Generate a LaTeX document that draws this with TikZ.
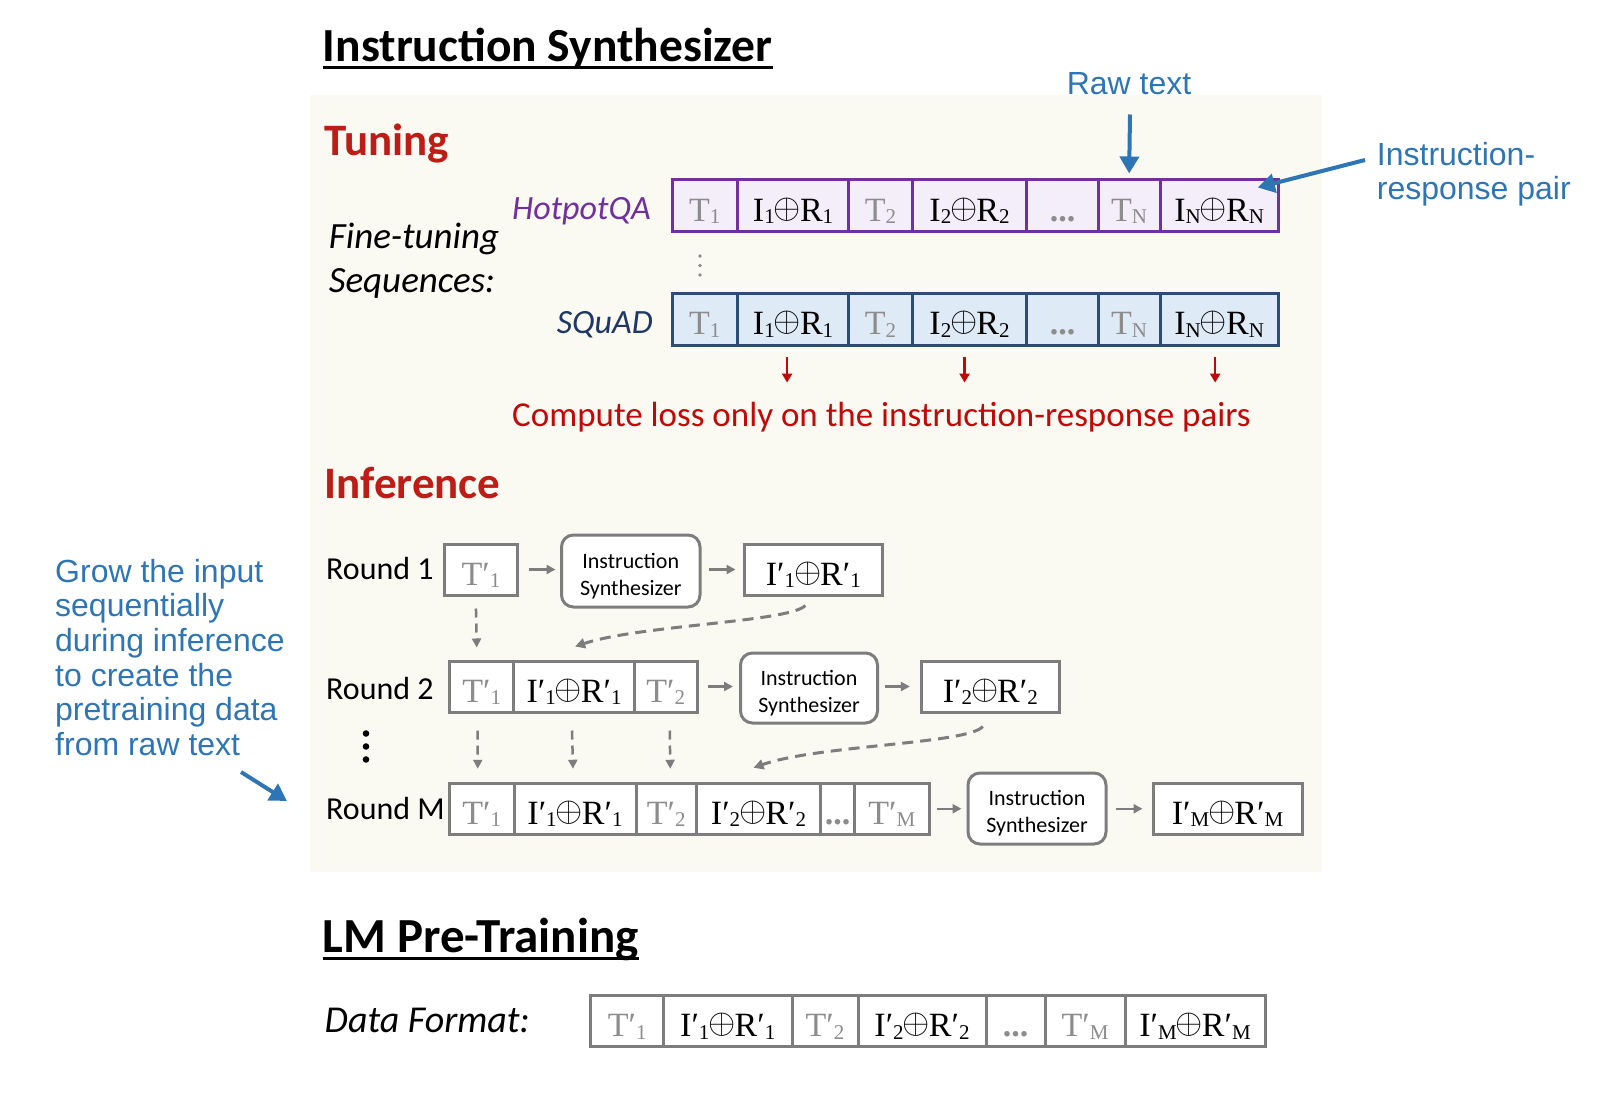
\documentclass[tikz,border=0pt]{standalone}
\usepackage{fontspec}
\setmainfont{Liberation Serif}
\newfontfamily\calfont{Carlito}
\newfontfamily\arialfont{Liberation Sans}
\usetikzlibrary{arrows.meta,calc}
\definecolor{bgc}{RGB}{250,249,242}
\definecolor{redc}{RGB}{190,28,22}
\definecolor{redl}{RGB}{192,10,10}
\definecolor{bluec}{RGB}{46,117,182}
\definecolor{purpc}{RGB}{112,48,160}
\definecolor{purpf}{RGB}{243,238,250}
\definecolor{navyt}{RGB}{31,56,100}
\definecolor{navyb}{RGB}{44,78,118}
\definecolor{navyf}{RGB}{222,234,246}
\definecolor{grayb}{RGB}{125,125,125}
\definecolor{tgray}{RGB}{140,140,140}
\newcommand\sbs[1]{\raisebox{-2.5pt}{\fontsize{21}{21}\selectfont #1}}
\newcommand\op{\hspace{-1pt}\raisebox{2.9pt}{\scalebox{3.5}{\fontsize{10}{10}\selectfont$\oplus$}}\hspace{-1pt}}
\newcommand\pT[1]{\textcolor{tgray}{T\sbs{#1}}}
\newcommand\pIR[1]{I\sbs{#1}\op R\sbs{#1}}
\newcommand\qT[1]{\textcolor{tgray}{T′\sbs{#1}}}
\newcommand\qIR[1]{I′\sbs{#1}\op R′\sbs{#1}}
\newcommand\dts{\textcolor{tgray}{\bfseries ...}}
\newcommand\mkcell[6]{\node[#1, minimum width={(#4)-(#3)}] (#2) at ({((#3)+(#4))/2},#5) {#6};}
\begin{document}
\begin{tikzpicture}[x=1pt,y=-1pt,
  ttl/.style={font=\calfont\bfseries\fontsize{47.5}{50}\selectfont, inner sep=0pt, anchor=base west},
  heading/.style={font=\calfont\bfseries\fontsize{45}{50}\selectfont, inner sep=0pt, anchor=base west, text=redc},
  blu/.style={text=bluec, font=\arialfont\fontsize{32}{34.7}\selectfont, inner sep=0pt, anchor=base west, align=left},
  lbl/.style={font=\calfont\itshape\fontsize{37}{44}\selectfont, inner sep=0pt, anchor=base west, align=left},
  rnd/.style={font=\calfont\fontsize{32}{36}\selectfont, inner sep=0pt, anchor=base west},
  cellbase/.style={line width=3pt, inner sep=0pt, text height=31pt, text depth=0pt, font=\fontsize{34}{34}\selectfont},
  hcell/.style={cellbase, draw=purpc, fill=purpf, minimum height=51.7pt},
  scell/.style={cellbase, draw=navyb, fill=navyf, minimum height=51.7pt},
  gcell/.style={cellbase, draw=grayb, fill=white, minimum height=51pt},
  synth/.style={draw=grayb, fill=white, line width=3pt, rounded corners=12pt, inner sep=0pt},
  synthtxt/.style={font=\calfont\fontsize{22}{26.7}\selectfont, align=center, inner sep=0pt},
  bluarr/.style={draw=bluec, line width=4pt, -{Triangle[length=17pt,width=19pt]}},
  redarr/.style={draw=redl, line width=2.5pt, -{Triangle[length=9pt,width=10pt]}},
  garr/.style={draw=grayb, line width=2.5pt, -{Triangle[length=9pt,width=9pt]}},
  gdash/.style={draw=grayb, line width=2.5pt, dash pattern=on 9pt off 6pt, -{Triangle[length=9pt,width=9pt]}},
  gcurve/.style={draw=grayb, line width=3pt, dash pattern=on 11pt off 7pt, -{Triangle[length=10pt,width=10pt]}}
]
\useasboundingbox (0,0) rectangle (1600,1110);
\fill[bgc] (310,95) rectangle (1322,872);

% titles
\node[ttl] (title) at (322.7,61.7) {Instruction Synthesizer};
\draw[line width=3pt] ($(title.base west)+(0,5.6)$) -- ($(title.base east)+(0,5.6)$);
\node[heading] (tun) at (324,156) {Tuning};
\node[heading] (inf) at (324.5,498) {Inference};
\node[ttl, font=\calfont\bfseries\fontsize{49}{50}\selectfont] (lm) at (322.5,952) {LM Pre-Training};
\draw[line width=3pt] ($(lm.base west)+(0,6.5)$) -- ($(lm.base east)+(0,6.5)$);

% annotations (base anchor = last line)
\node[blu, anchor=base] (raw) at (1129,94.5) {Raw text};
\node[blu] (irp) at (1376.7,200) {Instruction-\\response pair};
\node[blu] (grow) at (55,755.5) {Grow the input\\sequentially\\during inference\\to create the\\pretraining data\\from raw text};

% tuning labels
\node[lbl] (ft) at (328.6,292) {Fine-tuning\\Sequences:};
\node[lbl, anchor=base east, text=purpc, font=\calfont\itshape\fontsize{34}{40}\selectfont] (hq) at (651,219.5) {HotpotQA};
\node[lbl, anchor=base east, text=navyt, font=\calfont\itshape\fontsize{34}{40}\selectfont] (sq) at (653,333) {SQuAD};

% HotpotQA row
\mkcell{hcell}{h1}{672.2}{737.5}{205.85}{\pT{1}}
\mkcell{hcell}{h2}{737.5}{848.7}{205.85}{\pIR{1}}
\mkcell{hcell}{h3}{848.7}{912.4}{205.85}{\pT{2}}
\mkcell{hcell}{h4}{912.4}{1026.7}{205.85}{\pIR{2}}
\mkcell{hcell}{h5}{1026.7}{1098.3}{205.85}{\dts}
\mkcell{hcell}{h6}{1098.3}{1160}{205.85}{\pT{N}}
\mkcell{hcell}{h7}{1160}{1278.3}{205.85}{\pIR{N}}
% SQuAD row
\mkcell{scell}{s1}{672.2}{737.5}{319.25}{\pT{1}}
\mkcell{scell}{s2}{737.5}{848.7}{319.25}{\pIR{1}}
\mkcell{scell}{s3}{848.7}{912.4}{319.25}{\pT{2}}
\mkcell{scell}{s4}{912.4}{1026.7}{319.25}{\pIR{2}}
\mkcell{scell}{s5}{1026.7}{1098.3}{319.25}{\dts}
\mkcell{scell}{s6}{1098.3}{1160}{319.25}{\pT{N}}
\mkcell{scell}{s7}{1160}{1278.3}{319.25}{\pIR{N}}
% vertical dots between rows
\foreach \yy in {256,265.5,275} \fill[tgray] (700,\yy) circle (1.8);

% blue arrows
\draw[bluarr] ($(raw.base)+(1,20)$) -- ($(h6.north)+(0,-5)$);
\coordinate (irs) at (1365,160);
\draw[bluarr] (irs) -- ($(h7.north east)+(-22,9)$);
\coordinate (gs) at (241,772);
\coordinate (ge) at (287,801);
\draw[bluarr] (gs) -- (ge);

% red arrows and loss text
\draw[redarr] ($(s2.south)+(-6,10)$) -- ($(s2.south)+(-6,36)$);
\draw[redarr] ($(s4.south)+(-5,10)$) -- ($(s4.south)+(-5,36)$);
\draw[redarr] ($(s7.south)+(-4,10)$) -- ($(s7.south)+(-4,36)$);
\node[anchor=base west, text=redl, font=\calfont\fontsize{35}{40}\selectfont, inner sep=0pt] (loss) at (512,426.5) {Compute loss only on the instruction-response pairs};

% Round labels
\node[rnd] (r1) at (326,579) {Round 1};
\node[rnd] (r2) at (326,699) {Round 2};
\node[rnd] (rM) at (326,819) {Round M};
\foreach \yy in {733.5,746.5,759.5} \fill (366,\yy) circle (3.3);

% Round 1
\mkcell{gcell}{a1}{444.5}{517.4}{569.5}{\qT{1}}
\node[synth, minimum width=138.5pt, minimum height=72pt] (sy1) at (630.75,571) {};
\node[synthtxt] (sy1t) at ($(sy1.center)+(0,5)$) {Instruction\\Synthesizer};
\mkcell{gcell}{a2}{744}{882.6}{569.5}{\qIR{1}}
\draw[garr, shorten <=10pt, shorten >=4.5pt] (a1.east) -- (a1.east -| sy1.west);
\draw[garr, shorten <=7pt, shorten >=7pt] (sy1.east |- a2.west) -- (a2.west);

% Round 2
\mkcell{gcell}{b1}{449.6}{513.8}{686.5}{\qT{1}}
\mkcell{gcell}{b2}{513.8}{634.3}{686.5}{\qIR{1}}
\mkcell{gcell}{b3}{634.3}{697.2}{686.5}{\qT{2}}
\node[synth, minimum width=137pt, minimum height=70pt] (sy2) at (809,688) {};
\node[synthtxt] (sy2t) at ($(sy2.center)+(0,5)$) {Instruction\\Synthesizer};
\mkcell{gcell}{b4}{921.4}{1059.2}{686.5}{\qIR{2}}
\draw[garr, shorten <=9pt, shorten >=6pt] (b3.east) -- (b3.east -| sy2.west);
\draw[garr, shorten <=6pt, shorten >=10pt] (sy2.east |- b4.west) -- (b4.west);

% Round M
\mkcell{gcell}{c1}{449.5}{514}{808.75}{\qT{1}}
\mkcell{gcell}{c2}{514}{636}{808.75}{\qIR{1}}
\mkcell{gcell}{c3}{636}{696.5}{808.75}{\qT{2}}
\mkcell{gcell}{c4}{696.5}{820.5}{808.75}{\qIR{2}}
\mkcell{gcell}{c5}{820.5}{854.5}{808.75}{\dts}
\mkcell{gcell}{c6}{854.5}{929}{808.75}{\qT{M}}
\node[synth, minimum width=138pt, minimum height=71pt] (syM) at (1037,808.5) {};
\node[synthtxt] (syMt) at ($(syM.center)+(0,5)$) {Instruction\\Synthesizer};
\mkcell{gcell}{c7}{1153}{1302}{808.75}{\qIR{M}}
\draw[garr, shorten <=6pt, shorten >=5pt] (c6.east) -- (c6.east -| syM.west);
\draw[garr, shorten <=8pt, shorten >=9pt] (syM.east |- c7.west) -- (c7.west);

% dashed vertical arrows
\draw[gdash] ($(a1.south)+(-5,12)$) -- ($(b1.north)+(-5,-12)$);
\draw[gdash] ($(b1.south)+(-4,17)$) -- ($(c1.north)+(-4,-13)$);
\draw[gdash] ($(b2.south)+(-2,17)$) -- ($(c2.north)+(-2,-13)$);
\draw[gdash] ($(b3.south)+(4,17)$) -- ($(c3.north)+(4,-13)$);

% dashed curves
\draw[gcurve] ($(a2.south)+(-8,9)$) .. controls (790,622) and (640,625) .. ($(b2.north)+(1,-13)$);
\draw[gcurve] ($(b4.south)+(-7.5,13)$) .. controls (968,744) and (818,745) .. ($(c4.north)+(-5,-14)$);

% Data format
\node[lbl, font=\calfont\itshape\fontsize{38}{44}\selectfont] (df) at (324.5,1032.7) {Data Format:};
\mkcell{gcell}{d1}{590.8}{663.5}{1021.25}{\qT{1}}
\mkcell{gcell}{d2}{663.5}{792}{1021.25}{\qIR{1}}
\mkcell{gcell}{d3}{792}{858}{1021.25}{\qT{2}}
\mkcell{gcell}{d4}{858}{986}{1021.25}{\qIR{2}}
\mkcell{gcell}{d5}{986}{1045}{1021.25}{\dts}
\mkcell{gcell}{d6}{1045}{1125}{1021.25}{\qT{M}}
\mkcell{gcell}{d7}{1125}{1265}{1021.25}{\qIR{M}}
\end{tikzpicture}
\end{document}
